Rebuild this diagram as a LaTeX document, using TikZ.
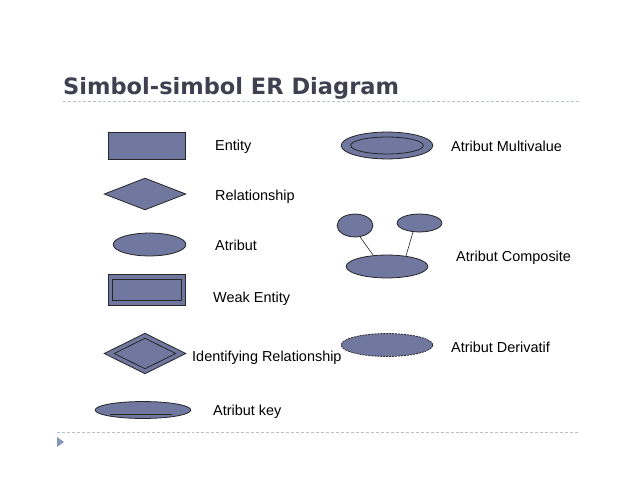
\documentclass[tikz,border=0pt]{standalone}
\usepackage{fontspec}
\setmainfont{Liberation Sans}
\newfontfamily\titlefont{DejaVu Sans}
\usetikzlibrary{shapes.geometric}
\definecolor{erfill}{RGB}{112,120,160}
\definecolor{titlegray}{RGB}{64,64,80}
\definecolor{rulegray}{RGB}{180,192,208}
\definecolor{bullet}{RGB}{130,150,185}
\tikzset{
  symb/.style={draw=black!85, fill=erfill, line width=0.8pt, inner sep=0pt},
  inner/.style={draw=black!85, line width=0.8pt, inner sep=0pt},
  lbl/.style={anchor=base west, font=\fontsize{14.5}{16}\selectfont, inner sep=0pt}
}
\begin{document}
\begin{tikzpicture}[x=1bp, y=-1bp]
\useasboundingbox (0,0) rectangle (638,493);
%% titel %%%%%%%%%%%%%%%%%%%%%%%%%%%%%%%%%
\node[anchor=base west, inner sep=0, text=titlegray, font=\titlefont\bfseries\fontsize{22.6}{26}\selectfont] (title) at (63,95) {Simbol-simbol ER Diagram};
\draw[rulegray, dashed, line width=0.8pt, dash pattern=on 3pt off 2pt] (63,101) -- (580,101);
\draw[rulegray, dashed, line width=0.8pt, dash pattern=on 3pt off 2pt] (57,432) -- (580,432);
\fill[bullet] (57,437) -- (64,442) -- (57,447) -- cycle;

%% kolom kiri %%%%%%%%%%%%%%%%%%%%%%%%%%%%
\node[symb, rectangle, minimum width=78, minimum height=27] (ent) at (147,145.5) {};
\node[symb, diamond, minimum width=82, minimum height=32] (rel) at (145,194) {};
\node[symb, ellipse, minimum width=73, minimum height=23] (atr) at (149.5,244.5) {};
\node[symb, rectangle, minimum width=78, minimum height=31] (weak) at (147,289.5) {};
\node[inner, rectangle, minimum width=69, minimum height=21] (weakin) at (weak.center) {};
\node[symb, diamond, minimum width=82, minimum height=41] (idrel) at (145,353.5) {};
\node[inner, diamond, minimum width=62, minimum height=31] (idrelin) at (idrel.center) {};
\node[symb, ellipse, minimum width=96, minimum height=17] (key) at (143,410) {};
\coordinate (keyA) at (110,414.5);
\coordinate (keyB) at (172,414.5);
\draw[black!85, line width=0.8pt] (keyA) -- (keyB);

\node[lbl] (lent) at (215,150.5) {Entity};
\node[lbl] (lrel) at (215,200.5) {Relationship};
\node[lbl] (latr) at (215,250.5) {Atribut};
\node[lbl] (lweak) at (213,302.5) {Weak Entity};
\node[lbl] (lidrel) at (192,361.5) {Identifying Relationship};
\node[lbl] (lkey) at (213,415.5) {Atribut key};

%% kolom kanan %%%%%%%%%%%%%%%%%%%%%%%%%%%
\node[symb, ellipse, minimum width=92, minimum height=27] (multi) at (387,145.5) {};
\node[inner, ellipse, minimum width=73, minimum height=17] (multiin) at (multi.center) {};
\node[symb, ellipse, minimum width=36, minimum height=23] (compA) at (355,225.5) {};
\node[symb, ellipse, minimum width=45, minimum height=18] (compB) at (419.5,223) {};
\node[symb, ellipse, minimum width=82, minimum height=23] (comp) at (387,266.5) {};
\draw[black!85, line width=0.6pt] (compA.-66) -- (comp.141);
\draw[black!85, line width=0.6pt] (compB.-126) -- (comp.29);
\node[symb, ellipse, dashed, dash pattern=on 2pt off 1pt, minimum width=92, minimum height=23] (deriv) at (387,345) {};

\node[lbl] (lmulti) at (451,151.5) {Atribut Multivalue};
\node[lbl] (lcomp) at (456,261.5) {Atribut Composite};
\node[lbl] (lderiv) at (451,352.5) {Atribut Derivatif};
\end{tikzpicture}
\end{document}
